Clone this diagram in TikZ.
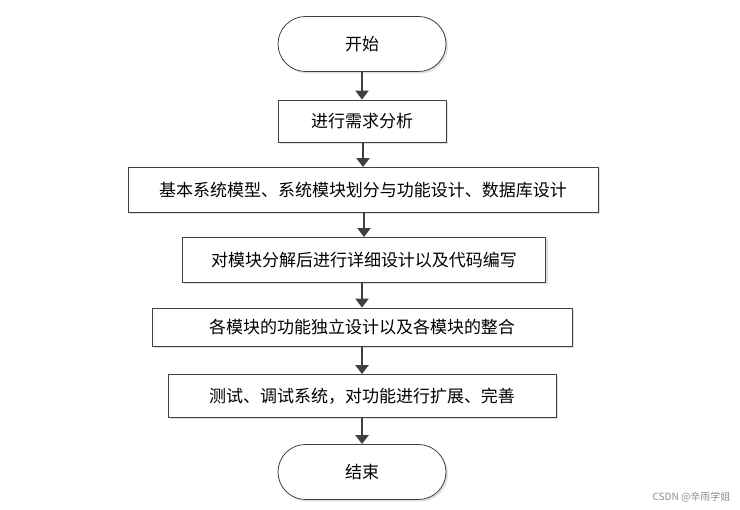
\documentclass[tikz,border=0pt]{standalone}
\usepackage{fontspec}
\setmainfont{Noto Sans CJK SC}
\usetikzlibrary{arrows.meta,shapes.misc,shadows}
\begin{document}
\begin{tikzpicture}[x=1pt,y=-1pt,
 box/.style={draw=black!75,line width=0.8pt,fill=white,font=\fontsize{17}{19}\selectfont,inner sep=0pt,
   drop shadow={shadow xshift=2pt,shadow yshift=-2pt,fill=black!25}},
 term/.style={box,rounded rectangle},
 arr/.style={draw=black!75,line width=2.2pt,-{Triangle[length=9pt,width=13pt]}}]
\useasboundingbox (0,0) rectangle (740,510);
\node[term,minimum width=168pt,minimum height=55pt] (n0) at (362,44) {开始};
\node[box,minimum width=168pt,minimum height=42pt] (n1) at (362,121) {进行需求分析};
\node[box,minimum width=470pt,minimum height=45pt] (n2) at (363,190) {基本系统模型、系统模块划分与功能设计、数据库设计};
\node[box,minimum width=363pt,minimum height=45pt] (n3) at (364,260) {对模块分解后进行详细设计以及代码编写};
\node[box,minimum width=420pt,minimum height=38pt] (n4) at (362,327) {各模块的功能独立设计以及各模块的整合};
\node[box,minimum width=388pt,minimum height=43pt] (n5) at (362,396) {测试、调试系统，对功能进行扩展、完善};
\node[term,minimum width=168pt,minimum height=55pt] (n6) at (362,472) {结束};
\foreach \a/\b in {n0/n1,n1/n2,n2/n3,n3/n4,n4/n5,n5/n6}
  \draw[arr] (\b.north |- \a.south) -- (\b.north);
\node[text=black!45,font=\fontsize{10}{11}\selectfont,anchor=east] (wm) at (734,497) {CSDN @辛雨学姐};
\end{tikzpicture}
\end{document}
